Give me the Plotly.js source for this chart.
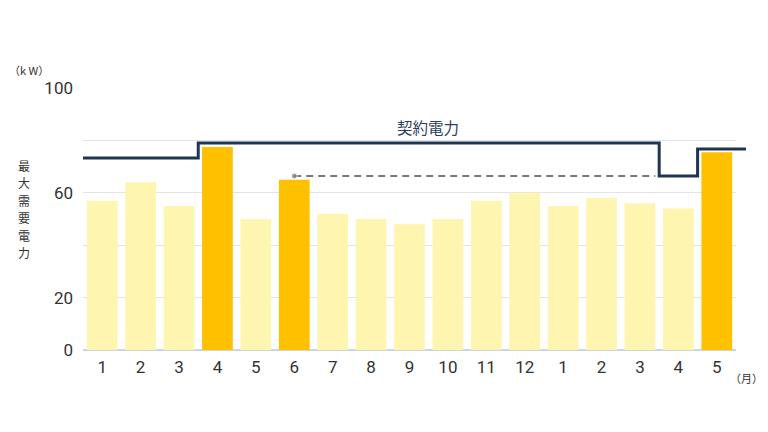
<!DOCTYPE html>
<html>
<head>
<meta charset="utf-8">
<script src="https://cdn.plot.ly/plotly-3.0.1.min.js"></script>
<style>html,body{margin:0;padding:0;background:#fff;}#chart{width:768px;height:432px;}</style>
</head>
<body>
<div id="chart"></div>
<script>
const months = ["1","2","3","4","5","6","7","8","9","10","11","12","1","2","3","4","5"];
const demand = [57, 64, 55, 77.5, 50, 65, 52, 50, 48, 50, 57, 60, 55, 58, 56, 54, 75.5];
const highlight = [false,false,false,true,false,true,false,false,false,false,false,false,false,false,false,false,true];
const contract = [73.3,73.3,73.3,79,79,79,79,79,79,79,79,79,79,79,79,66.4,76.7];
const dashedLevel = 66.4;
const dashedFrom = 6;
const dashedTo = 15.4;
const yTicks = [0,20,40,60,80,100];
const yTickText = ["0","20","","60","","100"];
const yTitleChars = ["最","大","需","要","電","力"];

const FONT = '"Noto Sans CJK JP", "Noto Sans", sans-serif';
const NUMFONT = 'Roboto, "Noto Sans CJK JP", sans-serif';
const xs = months.map((m,i)=>i+1);
const colors = highlight.map(h => h ? '#FFC000' : '#FEF5B1');

const L = 83, R = 22, T = 88, B = 82, W = 768, H = 432;
const plotW = W - L - R;
const plotH = H - T - B;
const mainW = 653;
const unit = mainW / months.length;
const x2max = 0.5 + plotW / unit;

const stepX = contract.map((v,i)=>i+0.5).concat([x2max]);
const stepY = contract.concat([contract[contract.length-1]]);

const traces = [
  {type:'bar', x: xs, y: demand, marker:{color: colors}, hoverinfo:'skip', xaxis:'x', yaxis:'y'},
  {type:'scatter', mode:'lines+markers', x:[dashedFrom, dashedTo], y:[dashedLevel, dashedLevel],
   line:{color:'#7a7a7a', width:2, dash:'7px,5px'}, marker:{size:[6,0], color:'#7a7a7a'}, xaxis:'x', yaxis:'y', hoverinfo:'skip'},
  {type:'scatter', mode:'lines', x: stepX, y: stepY, line:{shape:'hv', color:'#1f3556', width:3},
   xaxis:'x2', yaxis:'y2', hoverinfo:'skip'}
];

const px2x = p => (p - L) / plotW;
const py2y = p => (H - B - p) / plotH;

const annotations = [
  {xref:'x', yref:'y', x:9.48, y:85.1, text:'契約電力', showarrow:false, font:{size:15.5, color:'#2e3f5c', family:FONT}},
  {xref:'paper', yref:'paper', x:px2x(29), y:py2y(70), xanchor:'center', yanchor:'middle', text:'（k W）',
   showarrow:false, font:{size:11, color:'#333', family:FONT}},
  {xref:'paper', yref:'paper', x:px2x(746), y:py2y(378), xanchor:'center', yanchor:'middle', text:'（月）',
   showarrow:false, font:{size:11, color:'#333', family:FONT}}
];
yTitleChars.forEach((c,i)=>{
  annotations.push({xref:'paper', yref:'paper', x:px2x(24), y:py2y(165 + i*17.5), xanchor:'center', yanchor:'middle',
    text:c, showarrow:false, borderpad:0, font:{size:12, color:'#333', family:FONT}});
});

const layout = {
  width: W, height: H,
  margin:{l:L, r:R, t:T, b:B},
  paper_bgcolor:'#fff', plot_bgcolor:'rgba(0,0,0,0)',
  showlegend:false,
  bargap:0.2,
  font:{family:FONT, color:'#333', size:16},
  xaxis:{domain:[0, mainW/plotW], range:[0.5, months.length+0.5], tickvals: xs, ticktext: months,
         showgrid:false, zeroline:false, showline:false, ticks:'', tickfont:{size:17, color:'#333', family:NUMFONT},
         ticklabelstandoff:5, fixedrange:true},
  yaxis:{range:[0,100], tickvals:yTicks, ticktext:yTickText, showgrid:true, gridcolor:'#e3e3e3', gridwidth:1,
         zeroline:true, zerolinecolor:'#cdd5e0', zerolinewidth:1.5, ticks:'', tickfont:{size:17, color:'#333', family:NUMFONT},
         ticklabelstandoff:9, fixedrange:true},
  xaxis2:{domain:[0,1], range:[0.5, x2max], anchor:'y2', visible:false, fixedrange:true},
  yaxis2:{domain:[0,1], range:[0,100], anchor:'x2', visible:false, fixedrange:true},
  annotations: annotations
};

Plotly.newPlot('chart', traces, layout, {staticPlot:true, displayModeBar:false});
</script>
</body>
</html>
